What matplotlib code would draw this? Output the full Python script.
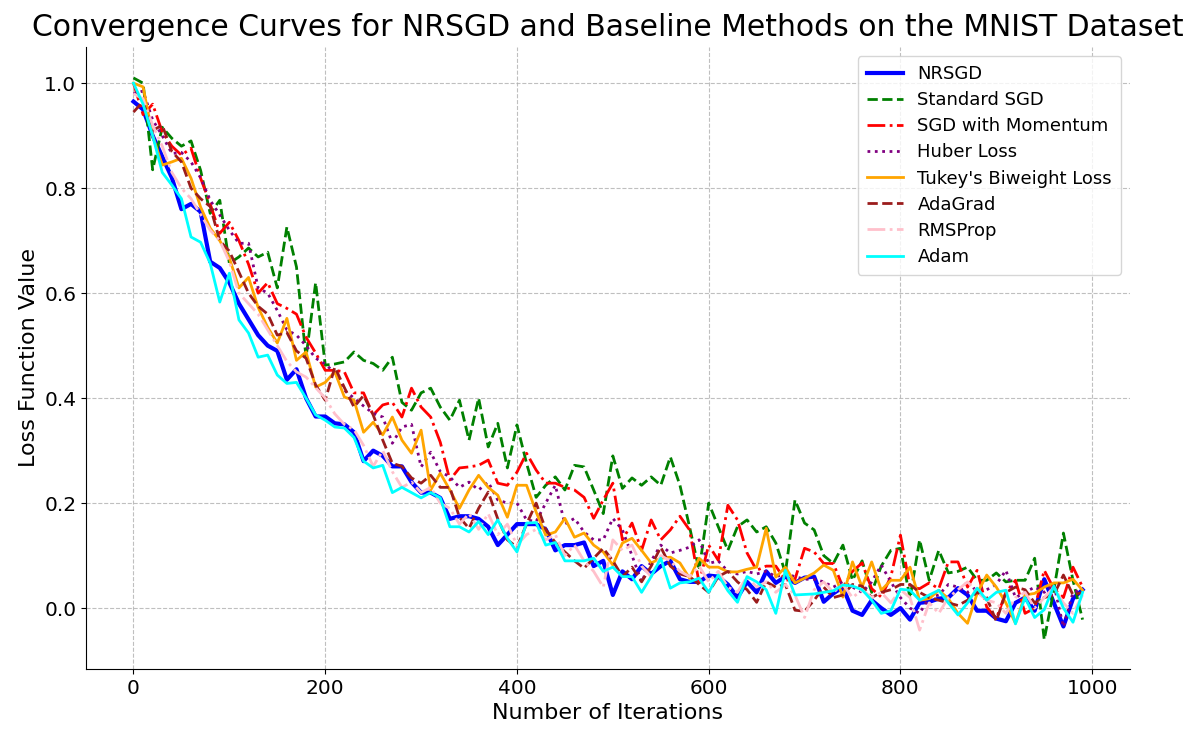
import numpy as np
import matplotlib
matplotlib.use("Agg")
import matplotlib.pyplot as plt

iterations = list(range(0, 1000, 10))

nrsgd = [0.965, 0.95, 0.90, 0.86, 0.82, 0.76, 0.77, 0.755, 0.66, 0.648,
         0.62, 0.58, 0.55, 0.52, 0.50, 0.49, 0.435, 0.455, 0.40, 0.365,
         0.365, 0.352, 0.35, 0.335, 0.28, 0.30, 0.29, 0.27, 0.27, 0.24,
         0.22, 0.22, 0.21, 0.17, 0.175, 0.175, 0.17, 0.155, 0.12, 0.14,
         0.16, 0.16, 0.16, 0.15, 0.11, 0.12, 0.12, 0.125, 0.08, 0.09,
         0.025, 0.07, 0.055, 0.08, 0.065, 0.08, 0.09, 0.055, 0.05, 0.05,
         0.062, 0.06, 0.045, 0.02, 0.05, 0.03, 0.07, 0.048, 0.06, 0.048,
         0.058, 0.06, 0.012, 0.028, 0.04, -0.005, -0.013, 0.015, 0.0, -0.013,
         0.0, -0.022, 0.01, 0.012, 0.018, 0.02, 0.038, 0.025, -0.005, -0.005,
         -0.02, -0.025, 0.01, 0.02, -0.005, 0.055, 0.01, -0.035, 0.018, 0.035]

standard_sgd = [1.01, 1.0, 0.835, 0.916, 0.895, 0.88, 0.89, 0.834, 0.752, 0.777,
                0.657, 0.669, 0.686, 0.669, 0.678, 0.61, 0.726, 0.65, 0.478, 0.62,
                0.463, 0.465, 0.469, 0.488, 0.472, 0.466, 0.453, 0.478, 0.392, 0.377,
                0.41, 0.419, 0.383, 0.358, 0.396, 0.32, 0.40, 0.307, 0.352, 0.267,
                0.349, 0.276, 0.211, 0.234, 0.25, 0.225, 0.272, 0.269, 0.225, 0.18,
                0.29, 0.228, 0.248, 0.234, 0.25, 0.234, 0.288, 0.234, 0.155, 0.072,
                0.20, 0.155, 0.11, 0.155, 0.168, 0.145, 0.155, 0.124, 0.067, 0.206,
                0.162, 0.149, 0.10, 0.085, 0.12, 0.053, 0.09, 0.03, 0.08, 0.11,
                0.114, 0.019, 0.13, 0.053, 0.11, 0.067, 0.07, 0.078, 0.053, 0.053,
                0.067, 0.05, 0.053, 0.053, 0.095, -0.06, 0.034, 0.143, 0.053, -0.022]

sgd_momentum = [1.0, 0.94, 0.96, 0.907, 0.88, 0.863, 0.876, 0.819, 0.77, 0.714,
                0.735, 0.70, 0.655, 0.60, 0.62, 0.58, 0.571, 0.56, 0.516, 0.486,
                0.453, 0.453, 0.45, 0.41, 0.41, 0.368, 0.387, 0.392, 0.364, 0.419,
                0.383, 0.364, 0.316, 0.244, 0.267, 0.269, 0.272, 0.282, 0.238, 0.234,
                0.259, 0.295, 0.263, 0.238, 0.238, 0.23, 0.225, 0.211, 0.171, 0.206,
                0.238, 0.13, 0.162, 0.11, 0.168, 0.13, 0.149, 0.175, 0.149, 0.048,
                0.12, 0.091, 0.196, 0.168, 0.105, 0.072, 0.08, 0.08, 0.053, 0.055,
                0.114, 0.107, 0.085, 0.085, 0.04, 0.07, 0.086, 0.037, 0.021, 0.06,
                0.139, 0.04, 0.037, 0.048, 0.037, 0.088, 0.088, 0.04, 0.072, 0.002,
                -0.02, 0.03, 0.053, -0.01, 0.0, 0.072, 0.037, 0.02, 0.078, 0.04]

huber = [0.98, 0.985, 0.93, 0.90, 0.866, 0.868, 0.85, 0.82, 0.777, 0.749,
         0.72, 0.695, 0.695, 0.61, 0.60, 0.567, 0.53, 0.52, 0.50, 0.476,
         0.465, 0.448, 0.415, 0.40, 0.385, 0.371, 0.364, 0.314, 0.345, 0.35,
         0.269, 0.297, 0.26, 0.25, 0.23, 0.24, 0.225, 0.24, 0.206, 0.20,
         0.20, 0.168, 0.165, 0.20, 0.234, 0.16, 0.171, 0.145, 0.13, 0.13,
         0.171, 0.149, 0.10, 0.05, 0.09, 0.12, 0.105, 0.11, 0.116, 0.13,
         0.085, 0.09, 0.07, 0.065, 0.07, 0.065, 0.07, 0.06, 0.065, 0.06,
         0.055, 0.055, 0.05, 0.04, 0.05, 0.04, 0.03, 0.05, 0.082, 0.05,
         0.02, 0.0, -0.01, 0.02, 0.025, 0.045, 0.04, 0.03, 0.04, 0.035,
         0.045, 0.072, 0.02, 0.03, 0.04, 0.03, 0.045, -0.036, 0.03, 0.035]

tukey = [1.0, 0.993, 0.90, 0.844, 0.85, 0.857, 0.819, 0.764, 0.724, 0.70,
         0.667, 0.61, 0.63, 0.573, 0.535, 0.505, 0.552, 0.472, 0.488, 0.421,
         0.43, 0.45, 0.402, 0.396, 0.335, 0.354, 0.33, 0.364, 0.32, 0.295,
         0.339, 0.225, 0.257, 0.225, 0.19, 0.225, 0.253, 0.23, 0.215, 0.173,
         0.234, 0.234, 0.183, 0.139, 0.145, 0.171, 0.135, 0.143, 0.12, 0.107,
         0.082, 0.124, 0.133, 0.11, 0.086, 0.095, 0.097, 0.086, 0.057, 0.095,
         0.078, 0.078, 0.069, 0.069, 0.074, 0.078, 0.152, 0.059, 0.078, 0.048,
         0.057, 0.067, 0.082, 0.072, 0.021, 0.088, 0.04, 0.088, 0.034, 0.053,
         0.053, 0.078, 0.015, 0.018, 0.034, 0.018, -0.01, -0.029, 0.028, 0.063,
         0.04, 0.01, -0.029, 0.025, 0.028, 0.04, 0.048, 0.048, 0.055, 0.034]

adagrad = [0.945, 0.965, 0.91, 0.92, 0.87, 0.85, 0.80, 0.78, 0.765, 0.70,
           0.68, 0.64, 0.60, 0.575, 0.56, 0.52, 0.525, 0.49, 0.476, 0.425,
           0.396, 0.459, 0.42, 0.383, 0.405, 0.368, 0.32, 0.276, 0.27, 0.248,
           0.238, 0.253, 0.23, 0.23, 0.173, 0.152, 0.19, 0.221, 0.17, 0.13,
           0.116, 0.16, 0.20, 0.15, 0.125, 0.107, 0.09, 0.076, 0.095, 0.114,
           0.09, 0.06, 0.078, 0.05, 0.08, 0.116, 0.08, 0.065, 0.06, 0.045,
           0.03, 0.06, 0.07, 0.05, 0.035, 0.011, 0.05, 0.04, 0.045, -0.004,
           -0.006, 0.015, 0.04, 0.02, 0.025, 0.045, 0.042, 0.02, 0.03, 0.035,
           0.045, 0.045, 0.03, 0.02, 0.015, 0.01, 0.005, 0.015, 0.03, 0.02,
           -0.025, 0.03, 0.04, 0.035, 0.01, 0.02, 0.025, 0.063, 0.025, 0.03]

rmsprop = [0.98, 0.97, 0.92, 0.88, 0.83, 0.80, 0.78, 0.75, 0.72, 0.70,
           0.66, 0.60, 0.58, 0.56, 0.53, 0.50, 0.47, 0.45, 0.44, 0.42,
           0.40, 0.37, 0.35, 0.34, 0.31, 0.27, 0.30, 0.26, 0.23, 0.24,
           0.22, 0.23, 0.20, 0.19, 0.16, 0.18, 0.15, 0.18, 0.14, 0.16,
           0.12, 0.14, 0.15, 0.13, 0.14, 0.10, 0.12, 0.09, 0.07, 0.04,
           0.13, 0.11, 0.12, 0.08, 0.06, 0.10, 0.09, 0.07, 0.06, 0.08,
           0.05, 0.07, 0.04, 0.03, 0.06, 0.04, 0.05, 0.03, 0.045, 0.025,
           -0.018, 0.035, 0.05, 0.03, 0.045, 0.02, 0.035, 0.02, 0.03, 0.01,
           0.035, 0.02, -0.042, 0.01, -0.01, 0.02, 0.035, 0.05, 0.03, 0.015,
           0.01, -0.01, 0.02, 0.03, 0.0, 0.02, 0.04, 0.01, -0.01, 0.025]

adam = [1.0, 0.96, 0.90, 0.83, 0.806, 0.78, 0.707, 0.697, 0.657, 0.583,
        0.638, 0.549, 0.524, 0.478, 0.482, 0.444, 0.428, 0.43, 0.40, 0.368,
        0.358, 0.345, 0.343, 0.325, 0.28, 0.267, 0.272, 0.22, 0.23, 0.22,
        0.21, 0.22, 0.21, 0.155, 0.155, 0.145, 0.165, 0.14, 0.168, 0.133,
        0.107, 0.162, 0.163, 0.12, 0.125, 0.09, 0.09, 0.09, 0.095, 0.07,
        0.078, 0.06, 0.06, 0.03, 0.06, 0.095, 0.038, 0.048, 0.05, 0.057,
        0.03, 0.063, 0.033, 0.011, 0.06, 0.05, 0.035, -0.01, 0.072, 0.025,
        0.026, 0.027, 0.03, 0.033, 0.044, 0.042, 0.035, 0.015, -0.01, -0.005,
        0.036, 0.034, 0.015, 0.025, 0.034, 0.01, -0.013, 0.01, 0.038, 0.015,
        0.03, 0.034, -0.03, 0.02, -0.018, -0.003, 0.042, 0.0, -0.027, 0.03]

labels = ["NRSGD", "Standard SGD", "SGD with Momentum", "Huber Loss",
          "Tukey's Biweight Loss", "AdaGrad", "RMSProp", "Adam"]

fig = plt.figure(figsize=(12, 7.42), dpi=100)
ax = fig.add_axes([0.0717, 0.0984, 0.870, 0.8383])

ax.plot(iterations, nrsgd, color="blue", linestyle="-", linewidth=3, label=labels[0])
ax.plot(iterations, standard_sgd, color="green", linestyle="--", linewidth=2, label=labels[1])
ax.plot(iterations, sgd_momentum, color="red", linestyle="-.", linewidth=2, label=labels[2])
ax.plot(iterations, huber, color="purple", linestyle=":", linewidth=2, label=labels[3])
ax.plot(iterations, tukey, color="orange", linestyle="-", linewidth=2, label=labels[4])
ax.plot(iterations, adagrad, color="#9b1c1c", linestyle="--", linewidth=2, label=labels[5])
ax.plot(iterations, rmsprop, color="pink", linestyle="-.", linewidth=2, label=labels[6])
ax.plot(iterations, adam, color="cyan", linestyle="-", linewidth=2, label=labels[7])

ax.set_title("Convergence Curves for NRSGD and Baseline Methods on the MNIST Dataset",
             fontsize=21.5, pad=8)
ax.set_xlabel("Number of Iterations", fontsize=16)
ax.set_ylabel("Loss Function Value", fontsize=16)
ax.tick_params(axis="both", labelsize=14.5)
ax.grid(True, linestyle="--", color="#b0b0b0", linewidth=0.8, alpha=0.8)
ax.spines["top"].set_visible(False)
ax.spines["right"].set_visible(False)
ax.set_yticks([0.0, 0.2, 0.4, 0.6, 0.8, 1.0])
ax.set_xlim(-49.5, 1039.5)
ax.set_ylim(-0.116, 1.069)
ax.legend(loc="upper right", fontsize=13, frameon=True, borderpad=0.5, labelspacing=0.45)

fig.savefig("out.png", dpi=100)
